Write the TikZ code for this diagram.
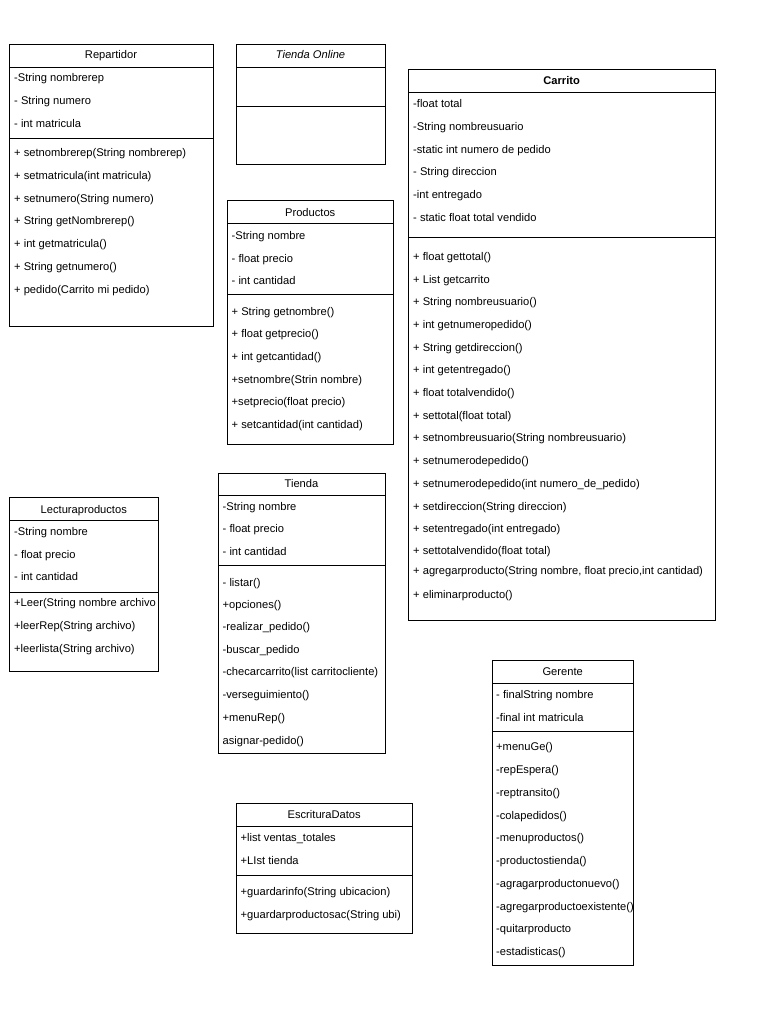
\documentclass[tikz,border=0pt]{standalone}
\usepackage{fontspec}
\setmainfont{Liberation Sans}
\newcommand{\mline}[4]{\node[mem] (#1) at (#2,#3) {#4};}
\tikzset{
  cls/.style={draw=black, line width=0.9pt, fill=white, anchor=north west, inner sep=0pt, outer sep=0pt},
  mem/.style={anchor=base west, inner sep=0pt, font=\fontsize{11.15}{13}\selectfont},
  ttl/.style={anchor=base, inner sep=0pt, font=\fontsize{11.15}{13}\selectfont},
  sep/.style={draw=black, line width=0.9pt}
}
\begin{document}
\begin{tikzpicture}[x=1pt,y=-1pt]
\path[fill=white] (0,0) rectangle (768,1024);
\useasboundingbox (0,0) rectangle (768,1024);

% ---------- Repartidor ----------
\node[cls, minimum width=204pt, minimum height=282.5pt] (rep) at (9,44) {};
\draw[sep] ([yshift=-23.3pt]rep.north west) -- ([yshift=-23.3pt]rep.north east);
\draw[sep] ([yshift=-94.3pt]rep.north west) -- ([yshift=-94.3pt]rep.north east);
\node[ttl] (rep-t) at (111,59) {Repartidor};
\mline{rep-a1}{14}{81.5}{-String nombrerep}
\mline{rep-a2}{14}{104.5}{- String numero}
\mline{rep-a3}{14}{127.3}{- int matricula}
\mline{rep-m1}{14}{157}{+ setnombrerep(String nombrerep)}
\mline{rep-m2}{14}{179.5}{+ setmatricula(int matricula)}
\mline{rep-m3}{14}{202.5}{+ setnumero(String numero)}
\mline{rep-m4}{14}{225}{+ String getNombrerep()}
\mline{rep-m5}{14}{247.8}{+ int getmatricula()}
\mline{rep-m6}{14}{270.5}{+ String getnumero()}
\mline{rep-m7}{14}{293.5}{+ pedido(Carrito mi pedido)}

% ---------- Tienda Online ----------
\node[cls, minimum width=149pt, minimum height=120pt] (tol) at (236,44) {};
\draw[sep] ([yshift=-23.3pt]tol.north west) -- ([yshift=-23.3pt]tol.north east);
\draw[sep] ([yshift=-62.7pt]tol.north west) -- ([yshift=-62.7pt]tol.north east);
\node[ttl, font=\fontsize{11.15}{13}\selectfont\itshape] (tol-t) at (310.5,59) {Tienda Online};

% ---------- Productos ----------
\node[cls, minimum width=166.5pt, minimum height=244pt] (pro) at (227,200.5) {};
\draw[sep] ([yshift=-22.8pt]pro.north west) -- ([yshift=-22.8pt]pro.north east);
\draw[sep] ([yshift=-93.5pt]pro.north west) -- ([yshift=-93.5pt]pro.north east);
\node[ttl] (pro-t) at (310.2,216.5) {Productos};
\mline{pro-a1}{231.5}{240}{-String nombre}
\mline{pro-a2}{231.5}{262}{- float precio}
\mline{pro-a3}{231.5}{284.5}{- int cantidad}
\mline{pro-m1}{231.5}{315}{+ String getnombre()}
\mline{pro-m2}{231.5}{337.5}{+ float getprecio()}
\mline{pro-m3}{231.5}{360.5}{+ int getcantidad()}
\mline{pro-m4}{231.5}{383}{+setnombre(Strin nombre)}
\mline{pro-m5}{231.5}{405.8}{+setprecio(float precio)}
\mline{pro-m6}{231.5}{428.5}{+ setcantidad(int cantidad)}

% ---------- Carrito ----------
\node[cls, minimum width=306.7pt, minimum height=550.7pt] (car) at (408.3,69.3) {};
\draw[sep] ([yshift=-23.2pt]car.north west) -- ([yshift=-23.2pt]car.north east);
\draw[sep] ([yshift=-168pt]car.north west) -- ([yshift=-168pt]car.north east);
\node[ttl, font=\fontsize{11.15}{13}\selectfont\bfseries] (car-t) at (561.6,85) {Carrito};
\mline{car-a1}{413}{107.5}{-float total}
\mline{car-a2}{413}{130.5}{-String nombreusuario}
\mline{car-a3}{413}{153.2}{-static int numero de pedido}
\mline{car-a4}{413}{176}{- String direccion}
\mline{car-a5}{413}{198.7}{-int entregado}
\mline{car-a6}{413}{221.5}{- static float total vendido}
\mline{car-m1}{413}{260.5}{+ float gettotal()}
\mline{car-m2}{413}{283}{+ List getcarrito}
\mline{car-m3}{413}{305.7}{+ String nombreusuario()}
\mline{car-m4}{413}{328.3}{+ int getnumeropedido()}
\mline{car-m5}{413}{351}{+ String getdireccion()}
\mline{car-m6}{413}{373.7}{+ int getentregado()}
\mline{car-m7}{413}{396.5}{+ float totalvendido()}
\mline{car-m8}{413}{419}{+ settotal(float total)}
\mline{car-m9}{413}{441.8}{+ setnombreusuario(String nombreusuario)}
\mline{car-m10}{413}{464.5}{+ setnumerodepedido()}
\mline{car-m11}{413}{487.5}{+ setnumerodepedido(int numero\_de\_pedido)}
\mline{car-m12}{413}{510}{+ setdireccion(String direccion)}
\mline{car-m13}{413}{532.8}{+ setentregado(int entregado)}
\mline{car-m14}{413}{554.7}{+ settotalvendido(float total)}
\mline{car-m15}{413}{574.7}{+ agregarproducto(String nombre, float precio,int cantidad)}
\mline{car-m16}{413}{598.5}{+ eliminarproducto()}

% ---------- Lecturaproductos ----------
\node[cls, minimum width=149pt, minimum height=174.5pt] (lec) at (9.3,497.3) {};
\draw[sep] ([yshift=-23.4pt]lec.north west) -- ([yshift=-23.4pt]lec.north east);
\draw[sep] ([yshift=-95.4pt]lec.north west) -- ([yshift=-95.4pt]lec.north east);
\node[ttl] (lec-t) at (83.8,513.3) {Lecturaproductos};
\mline{lec-a1}{14}{535.7}{-String nombre}
\mline{lec-a2}{14}{558.3}{- float precio}
\mline{lec-a3}{14}{580.7}{- int cantidad}
\mline{lec-m1}{14}{606.5}{+Leer(String nombre archivo}
\mline{lec-m2}{14}{629.5}{+leerRep(String archivo)}
\mline{lec-m3}{14}{652.3}{+leerlista(String archivo)}

% ---------- Tienda ----------
\node[cls, minimum width=167pt, minimum height=280.7pt] (tie) at (218,473) {};
\draw[sep] ([yshift=-22.5pt]tie.north west) -- ([yshift=-22.5pt]tie.north east);
\draw[sep] ([yshift=-92.7pt]tie.north west) -- ([yshift=-92.7pt]tie.north east);
\node[ttl] (tie-t) at (301.5,487.7) {Tienda};
\mline{tie-a1}{222.5}{510.5}{-String nombre}
\mline{tie-a2}{222.5}{532.5}{- float precio}
\mline{tie-a3}{222.5}{555}{- int cantidad}
\mline{tie-m1}{222.5}{586}{- listar()}
\mline{tie-m2}{222.5}{608.3}{+opciones()}
\mline{tie-m3}{222.5}{630.5}{-realizar\_pedido()}
\mline{tie-m4}{222.5}{653}{-buscar\_pedido}
\mline{tie-m5}{222.5}{675.5}{-checarcarrito(list carritocliente)}
\mline{tie-m6}{222.5}{698.2}{-verseguimiento()}
\mline{tie-m7}{222.5}{721.3}{+menuRep()}
\mline{tie-m8}{222.5}{744.2}{asignar-pedido()}

% ---------- EscrituraDatos ----------
\node[cls, minimum width=175.5pt, minimum height=130.2pt] (esc) at (236.5,803.3) {};
\draw[sep] ([yshift=-23.4pt]esc.north west) -- ([yshift=-23.4pt]esc.north east);
\draw[sep] ([yshift=-71.7pt]esc.north west) -- ([yshift=-71.7pt]esc.north east);
\node[ttl] (esc-t) at (324.2,818.3) {EscrituraDatos};
\mline{esc-a1}{240.5}{841.7}{+list ventas\_totales}
\mline{esc-a2}{240.5}{864.5}{+LIst tienda}
\mline{esc-m1}{240.5}{895}{+guardarinfo(String ubicacion)}
\mline{esc-m2}{240.5}{918}{+guardarproductosac(String ubi)}

% ---------- Gerente ----------
\node[cls, minimum width=140.5pt, minimum height=305pt] (ger) at (492.5,660) {};
\draw[sep] ([yshift=-23.3pt]ger.north west) -- ([yshift=-23.3pt]ger.north east);
\draw[sep] ([yshift=-71pt]ger.north west) -- ([yshift=-71pt]ger.north east);
\node[ttl] (ger-t) at (562.7,675.5) {Gerente};
\mline{ger-a1}{496}{698.8}{- finalString nombre}
\mline{ger-a2}{496}{721.5}{-final int matricula}
\mline{ger-m1}{496}{750.5}{+menuGe()}
\mline{ger-m2}{496}{773.3}{-repEspera()}
\mline{ger-m3}{496}{796.2}{-reptransito()}
\mline{ger-m4}{496}{819}{-colapedidos()}
\mline{ger-m5}{496}{841.8}{-menuproductos()}
\mline{ger-m6}{496}{864.7}{-productostienda()}
\mline{ger-m7}{496}{887.3}{-agragarproductonuevo()}
\mline{ger-m8}{496}{910}{-agregarproductoexistente()}
\mline{ger-m9}{496}{932.5}{-quitarproducto}
\mline{ger-m10}{496}{955}{-estadisticas()}
\end{tikzpicture}
\end{document}
